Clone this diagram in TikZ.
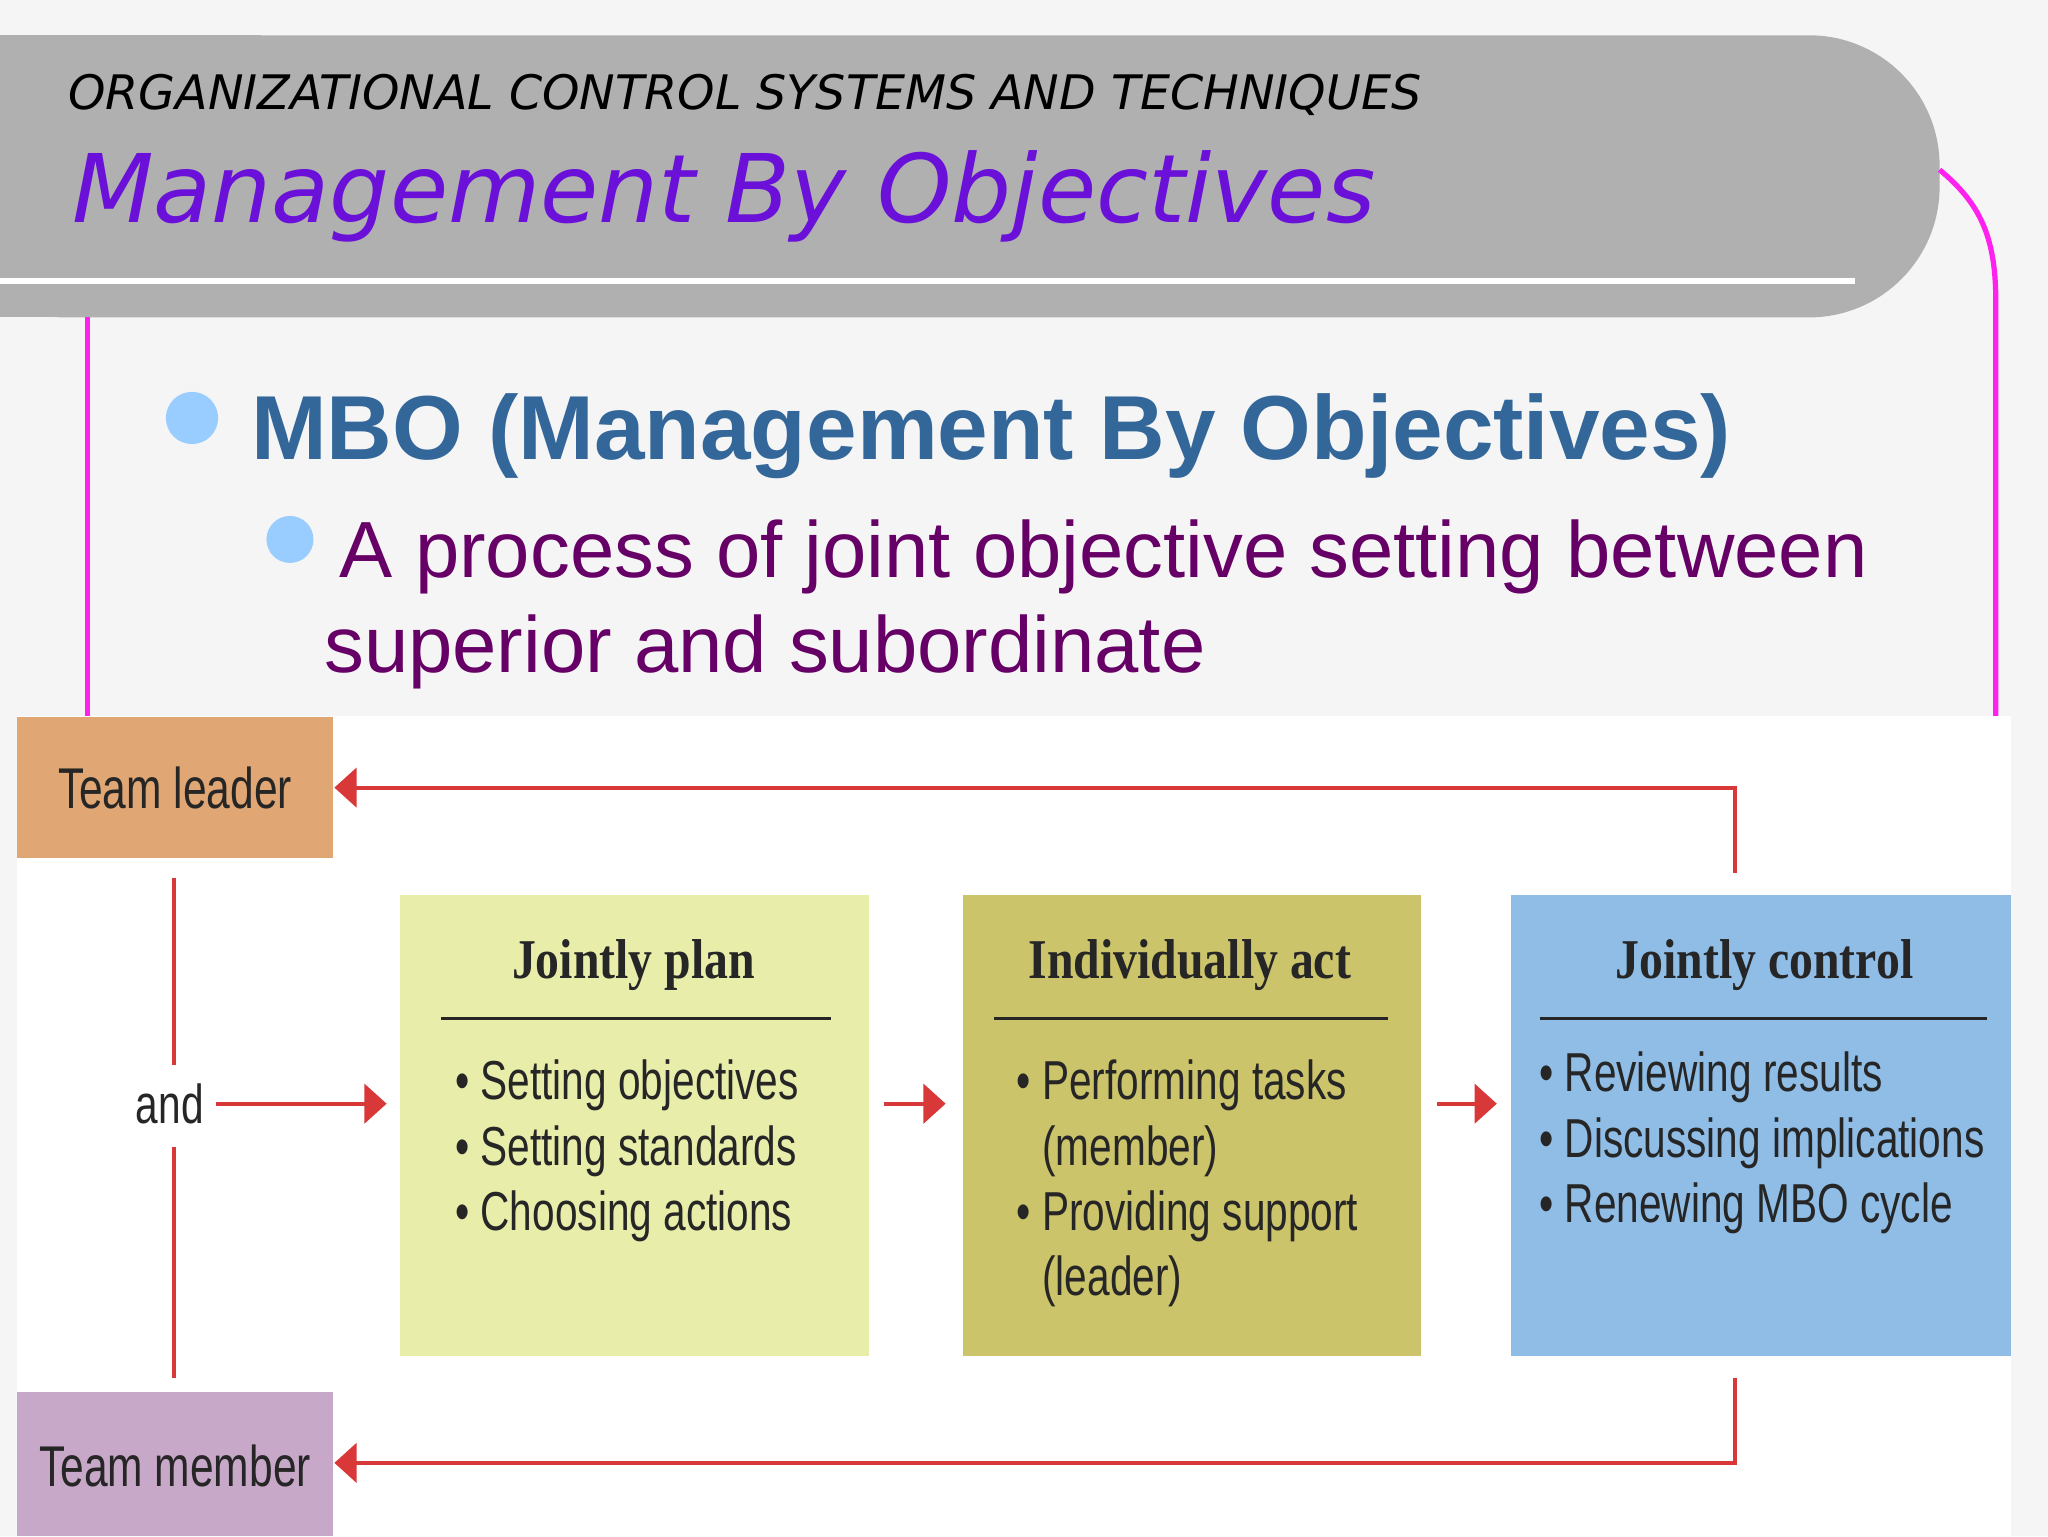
\documentclass[tikz,border=0pt]{standalone}
\usepackage{fontspec}
\setmainfont{Liberation Sans}
\newfontfamily\narrow[FakeStretch=0.74]{Liberation Sans}
\newfontfamily\narrowserif[FakeStretch=0.85]{Liberation Serif}
\newfontfamily\headfont{DejaVu Sans}
\definecolor{hdr}{HTML}{B0B0B0}
\definecolor{mag}{HTML}{FF22EE}
\definecolor{ttl}{HTML}{6A10D8}
\definecolor{mbo}{HTML}{336699}
\definecolor{sub}{HTML}{660066}
\definecolor{bul}{HTML}{99CCFF}
\definecolor{arr}{HTML}{D83838}
\definecolor{cplan}{HTML}{E8EEAA}
\definecolor{cact}{HTML}{CCC46A}
\definecolor{cctl}{HTML}{8FBDE6}
\definecolor{corg}{HTML}{E0A673}
\definecolor{cmem}{HTML}{C8A8C8}
\usetikzlibrary{arrows.meta}
\begin{document}
\begin{tikzpicture}[x=1pt,y=-1pt,
  redl/.style={draw=arr,line width=3pt},
  redarr/.style={redl,-{Triangle[length=17pt,width=30pt]}},
  btitle/.style={font=\narrowserif\bfseries\fontsize{43}{47}\selectfont,text=black!85},
  btxt/.style={font=\narrow\fontsize{42}{50}\selectfont,text=black!85,align=left,anchor=north west}]
\useasboundingbox (0,0) rectangle (1568,1176);
\fill[white!96!black] (0,0) rectangle (1568,1176);
% header
\fill[hdr,rounded corners=100pt] (-50,27) -- (1485,27) -- (1485,243) -- (-50,243) -- cycle;
\fill[hdr] (0,27) rectangle (200,243);
\draw[white,line width=5pt] (0,215) -- (1420,215);
\draw[mag,line width=4pt] (67,243) -- (67,548);
\draw[mag,line width=4pt] (1485,130) .. controls (1515,155) and (1528,180) .. (1528,230) -- (1528,548);
\node[anchor=base west,inner sep=0,font=\headfont\itshape\fontsize{36.4}{40}\selectfont] (h1) at (52,84) {ORGANIZATIONAL CONTROL SYSTEMS AND TECHNIQUES};
\node[anchor=base west,inner sep=0,text=ttl,font=\headfont\itshape\fontsize{72.5}{84}\selectfont] (h2) at (55,170) {Management By Objectives};
% bullets
\fill[bul] (147,320) circle (20);
\node[anchor=base west,inner sep=0,text=mbo,font=\bfseries\fontsize{69.6}{80}\selectfont] (mb) at (192,352) {MBO (Management By Objectives)};
\fill[bul] (222,413) circle (18);
\node[anchor=base west,inner sep=0,text=sub,font=\fontsize{61}{72}\selectfont] (s1) at (260,442) {A process of joint objective setting between};
\node[anchor=base west,inner sep=0,text=sub,font=\fontsize{61}{72}\selectfont] (s2) at (248,515) {superior and subordinate};
% diagram
\fill[white] (13,548) rectangle (1540,1176);
\fill[corg] (13,549) rectangle (255,657);
\node[font=\narrow\fontsize{44}{50}\selectfont,text=black!85] (tl) at (134,603) {Team leader};
\fill[cmem] (13,1066) rectangle (255,1176);
\node[font=\narrow\fontsize{44}{50}\selectfont,text=black!85] (tm) at (134,1122) {Team member};
\fill[cplan] (306,685) rectangle (665,1038);
\fill[cact] (737,685) rectangle (1088,1038);
\fill[cctl] (1157,685) rectangle (1540,1038);
\node[btitle] (t1) at (485,739) {Jointly plan};
\node[btitle] (t2) at (911,739) {Individually act};
\node[btitle] (t3) at (1351,739) {Jointly control};
\draw[line width=2pt,black!85] (338,780) -- (636,780);
\draw[line width=2pt,black!85] (761,780) -- (1063,780);
\draw[line width=2pt,black!85] (1179,780) -- (1521,780);
\node[btxt] (b1) at (345,808) {\textbullet\ Setting objectives\\\textbullet\ Setting standards\\\textbullet\ Choosing actions};
\node[btxt] (b2) at (775,808) {\textbullet\ Performing tasks\\\phantom{\textbullet\ }(member)\\\textbullet\ Providing support\\\phantom{\textbullet\ }(leader)};
\node[btxt] (b3) at (1175,802) {\textbullet\ Reviewing results\\\textbullet\ Discussing implications\\\textbullet\ Renewing MBO cycle};
\node[font=\narrow\fontsize{42}{50}\selectfont,text=black!85] (and) at (130,845) {and};
\coordinate (p1) at (1328,668);
\coordinate (p2) at (1328,1055);
\draw[redarr] (p1) |- (256,603);
\draw[redarr] (p2) |- (256,1120);
\draw[redl] (133,672) -- (133,815);
\draw[redl] (133,878) -- (133,1055);
\draw[redarr] (165,845) -- (296,845);
\draw[redarr] (677,845) -- (724,845);
\draw[redarr] (1100,845) -- (1146,845);
\end{tikzpicture}
\end{document}
